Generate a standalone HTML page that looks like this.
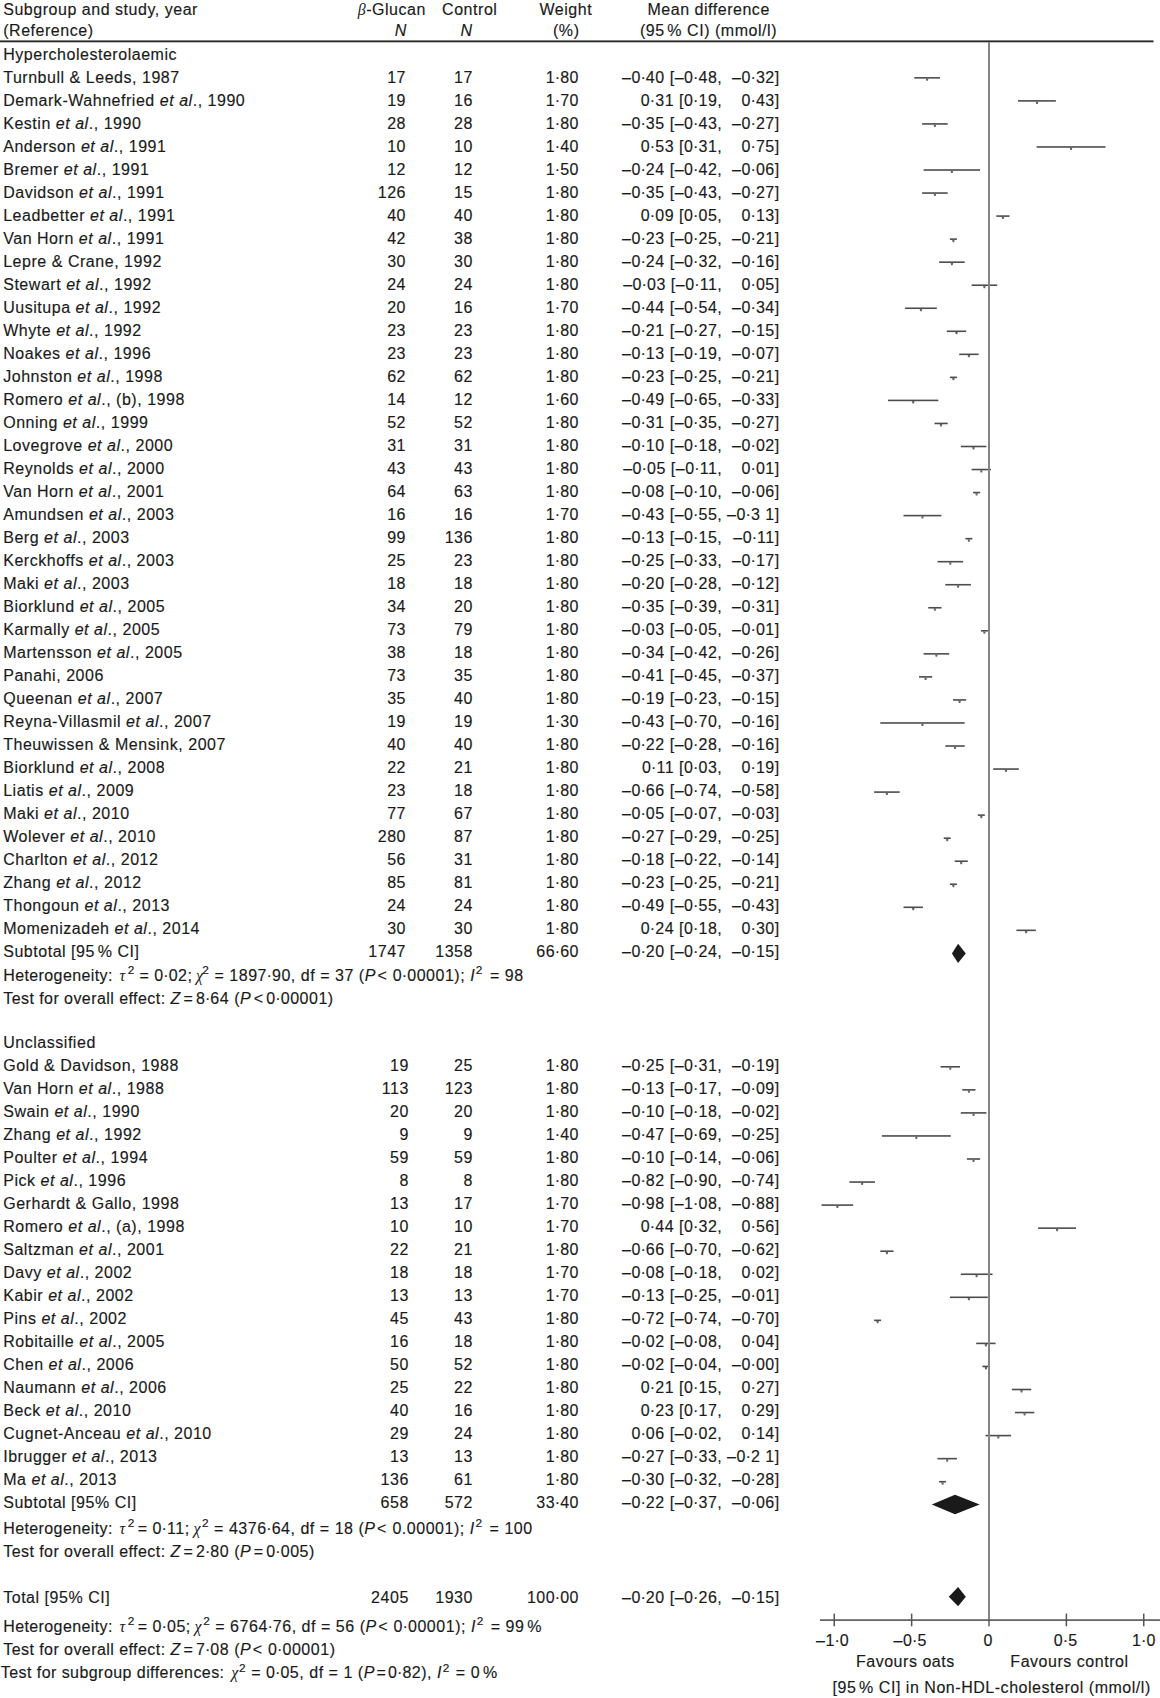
<!DOCTYPE html>
<html><head><meta charset="utf-8"><title>Forest plot</title><style>
html,body{margin:0;padding:0;background:#fff}
#p{position:relative;width:1160px;height:1698px;overflow:hidden;background:#fff;color:#1a1a1a;
font-family:"Liberation Sans",sans-serif;-webkit-text-stroke:0.15px #1a1a1a;font-size:16.0px;line-height:20.0px;letter-spacing:0.53px}
.row{transform:translateY(0.5px);position:absolute;left:0;width:1160px;height:20.0px;white-space:pre}
.row span.l{position:absolute;top:0}
.row span.r{position:absolute;top:0;margin-right:-0.53px}
.row span.c{position:absolute;top:0;width:500px;text-align:center;text-indent:0.53px}
.g{font-family:"Liberation Serif",serif;font-style:italic}
sup{font-size:0.74em;line-height:0;vertical-align:baseline;position:relative;top:-6.4px;margin-left:2px}
.eq{padding:0 2.6px}
.s1{margin-right:-3px}
.x{margin-left:-2px}
.lt{padding:0 0.5px 0 1.5px}
.s3{margin-left:0.7px;margin-right:2px}
b{font-weight:normal;margin:0 -0.44px}
.g{-webkit-text-stroke:0}
.ts{font-size:0.5em}
svg{position:absolute;left:0;top:0}
</style></head>
<body><div id="p">
<svg width="1160" height="1698" viewBox="0 0 1160 1698">
<rect x="914.3" y="77.05" width="25.6" height="1.6" fill="#4d4d4d"/>
<path d="M925.8 78.45h2.6l-0.5 2.4h-1.6z" fill="#666"/>
<rect x="1018.0" y="100.09" width="37.9" height="1.6" fill="#4d4d4d"/>
<path d="M1035.7 101.49h2.6l-0.5 2.4h-1.6z" fill="#666"/>
<rect x="922.1" y="123.13" width="25.6" height="1.6" fill="#4d4d4d"/>
<path d="M933.6 124.53h2.6l-0.5 2.4h-1.6z" fill="#666"/>
<rect x="1036.6" y="146.17" width="68.9" height="1.6" fill="#4d4d4d"/>
<path d="M1069.7 147.57h2.6l-0.5 2.4h-1.6z" fill="#666"/>
<rect x="923.6" y="169.21" width="56.5" height="1.6" fill="#4d4d4d"/>
<path d="M950.6 170.61h2.6l-0.5 2.4h-1.6z" fill="#666"/>
<rect x="922.1" y="192.25" width="25.6" height="1.6" fill="#4d4d4d"/>
<path d="M933.6 193.65h2.6l-0.5 2.4h-1.6z" fill="#666"/>
<rect x="996.3" y="215.29" width="13.2" height="1.6" fill="#4d4d4d"/>
<path d="M1001.6 216.69h2.6l-0.5 2.4h-1.6z" fill="#666"/>
<rect x="949.9" y="238.33" width="7.0" height="1.6" fill="#4d4d4d"/>
<path d="M952.1 239.73h2.6l-0.5 2.4h-1.6z" fill="#666"/>
<rect x="939.1" y="261.37" width="25.6" height="1.6" fill="#4d4d4d"/>
<path d="M950.6 262.77h2.6l-0.5 2.4h-1.6z" fill="#666"/>
<rect x="971.6" y="284.41" width="25.6" height="1.6" fill="#4d4d4d"/>
<path d="M983.1 285.81h2.6l-0.5 2.4h-1.6z" fill="#666"/>
<rect x="905.1" y="307.45" width="31.7" height="1.6" fill="#4d4d4d"/>
<path d="M919.6 308.85h2.6l-0.5 2.4h-1.6z" fill="#666"/>
<rect x="946.8" y="330.49" width="19.4" height="1.6" fill="#4d4d4d"/>
<path d="M955.2 331.89h2.6l-0.5 2.4h-1.6z" fill="#666"/>
<rect x="959.2" y="353.53" width="19.4" height="1.6" fill="#4d4d4d"/>
<path d="M967.6 354.93h2.6l-0.5 2.4h-1.6z" fill="#666"/>
<rect x="949.9" y="376.57" width="7.0" height="1.6" fill="#4d4d4d"/>
<path d="M952.1 377.97h2.6l-0.5 2.4h-1.6z" fill="#666"/>
<rect x="888.0" y="399.61" width="50.3" height="1.6" fill="#4d4d4d"/>
<path d="M911.9 401.01h2.6l-0.5 2.4h-1.6z" fill="#666"/>
<rect x="934.5" y="422.65" width="13.2" height="1.6" fill="#4d4d4d"/>
<path d="M939.7 424.05h2.6l-0.5 2.4h-1.6z" fill="#666"/>
<rect x="960.8" y="445.69" width="25.6" height="1.6" fill="#4d4d4d"/>
<path d="M972.2 447.09h2.6l-0.5 2.4h-1.6z" fill="#666"/>
<rect x="971.6" y="468.73" width="19.4" height="1.6" fill="#4d4d4d"/>
<path d="M980.0 470.13h2.6l-0.5 2.4h-1.6z" fill="#666"/>
<rect x="973.1" y="491.77" width="7.0" height="1.6" fill="#4d4d4d"/>
<path d="M975.3 493.17h2.6l-0.5 2.4h-1.6z" fill="#666"/>
<rect x="903.5" y="514.81" width="37.9" height="1.6" fill="#4d4d4d"/>
<path d="M921.2 516.21h2.6l-0.5 2.4h-1.6z" fill="#666"/>
<rect x="965.4" y="537.85" width="7.0" height="1.6" fill="#4d4d4d"/>
<path d="M967.6 539.25h2.6l-0.5 2.4h-1.6z" fill="#666"/>
<rect x="937.5" y="560.89" width="25.6" height="1.6" fill="#4d4d4d"/>
<path d="M949.0 562.29h2.6l-0.5 2.4h-1.6z" fill="#666"/>
<rect x="945.3" y="583.93" width="25.6" height="1.6" fill="#4d4d4d"/>
<path d="M956.8 585.33h2.6l-0.5 2.4h-1.6z" fill="#666"/>
<rect x="928.3" y="606.97" width="13.2" height="1.6" fill="#4d4d4d"/>
<path d="M933.6 608.37h2.6l-0.5 2.4h-1.6z" fill="#666"/>
<rect x="980.9" y="630.01" width="7.0" height="1.6" fill="#4d4d4d"/>
<path d="M983.1 631.41h2.6l-0.5 2.4h-1.6z" fill="#666"/>
<rect x="923.6" y="653.05" width="25.6" height="1.6" fill="#4d4d4d"/>
<path d="M935.1 654.45h2.6l-0.5 2.4h-1.6z" fill="#666"/>
<rect x="919.0" y="676.09" width="13.2" height="1.6" fill="#4d4d4d"/>
<path d="M924.3 677.49h2.6l-0.5 2.4h-1.6z" fill="#666"/>
<rect x="953.0" y="699.13" width="13.2" height="1.6" fill="#4d4d4d"/>
<path d="M958.3 700.53h2.6l-0.5 2.4h-1.6z" fill="#666"/>
<rect x="880.3" y="722.17" width="84.3" height="1.6" fill="#4d4d4d"/>
<path d="M921.2 723.57h2.6l-0.5 2.4h-1.6z" fill="#666"/>
<rect x="945.3" y="745.21" width="19.4" height="1.6" fill="#4d4d4d"/>
<path d="M953.7 746.61h2.6l-0.5 2.4h-1.6z" fill="#666"/>
<rect x="993.2" y="768.25" width="25.6" height="1.6" fill="#4d4d4d"/>
<path d="M1004.7 769.65h2.6l-0.5 2.4h-1.6z" fill="#666"/>
<rect x="874.1" y="791.29" width="25.6" height="1.6" fill="#4d4d4d"/>
<path d="M885.6 792.69h2.6l-0.5 2.4h-1.6z" fill="#666"/>
<rect x="977.8" y="814.33" width="7.0" height="1.6" fill="#4d4d4d"/>
<path d="M980.0 815.73h2.6l-0.5 2.4h-1.6z" fill="#666"/>
<rect x="943.7" y="837.37" width="7.0" height="1.6" fill="#4d4d4d"/>
<path d="M945.9 838.77h2.6l-0.5 2.4h-1.6z" fill="#666"/>
<rect x="954.6" y="860.41" width="13.2" height="1.6" fill="#4d4d4d"/>
<path d="M959.9 861.81h2.6l-0.5 2.4h-1.6z" fill="#666"/>
<rect x="949.9" y="883.45" width="7.0" height="1.6" fill="#4d4d4d"/>
<path d="M952.1 884.85h2.6l-0.5 2.4h-1.6z" fill="#666"/>
<rect x="903.5" y="906.49" width="19.4" height="1.6" fill="#4d4d4d"/>
<path d="M911.9 907.89h2.6l-0.5 2.4h-1.6z" fill="#666"/>
<rect x="1016.4" y="929.53" width="19.4" height="1.6" fill="#4d4d4d"/>
<path d="M1024.8 930.93h2.6l-0.5 2.4h-1.6z" fill="#666"/>
<path d="M951.9 953.4L958.1 943.8L965.8 953.4L958.1 963.0z" fill="#1a1a1a"/>
<rect x="940.6" y="1066.00" width="19.4" height="1.6" fill="#4d4d4d"/>
<path d="M949.0 1067.40h2.6l-0.5 2.4h-1.6z" fill="#666"/>
<rect x="962.3" y="1089.05" width="13.2" height="1.6" fill="#4d4d4d"/>
<path d="M967.6 1090.45h2.6l-0.5 2.4h-1.6z" fill="#666"/>
<rect x="960.8" y="1112.10" width="25.6" height="1.6" fill="#4d4d4d"/>
<path d="M972.2 1113.50h2.6l-0.5 2.4h-1.6z" fill="#666"/>
<rect x="881.9" y="1135.15" width="68.9" height="1.6" fill="#4d4d4d"/>
<path d="M915.0 1136.55h2.6l-0.5 2.4h-1.6z" fill="#666"/>
<rect x="966.9" y="1158.20" width="13.2" height="1.6" fill="#4d4d4d"/>
<path d="M972.2 1159.60h2.6l-0.5 2.4h-1.6z" fill="#666"/>
<rect x="849.4" y="1181.25" width="25.6" height="1.6" fill="#4d4d4d"/>
<path d="M860.8 1182.65h2.6l-0.5 2.4h-1.6z" fill="#666"/>
<rect x="821.5" y="1204.30" width="31.7" height="1.6" fill="#4d4d4d"/>
<path d="M836.1 1205.70h2.6l-0.5 2.4h-1.6z" fill="#666"/>
<rect x="1038.1" y="1227.35" width="37.9" height="1.6" fill="#4d4d4d"/>
<path d="M1055.8 1228.75h2.6l-0.5 2.4h-1.6z" fill="#666"/>
<rect x="880.3" y="1250.40" width="13.2" height="1.6" fill="#4d4d4d"/>
<path d="M885.6 1251.80h2.6l-0.5 2.4h-1.6z" fill="#666"/>
<rect x="960.8" y="1273.45" width="31.7" height="1.6" fill="#4d4d4d"/>
<path d="M975.3 1274.85h2.6l-0.5 2.4h-1.6z" fill="#666"/>
<rect x="949.9" y="1296.50" width="37.9" height="1.6" fill="#4d4d4d"/>
<path d="M967.6 1297.90h2.6l-0.5 2.4h-1.6z" fill="#666"/>
<rect x="874.1" y="1319.55" width="7.0" height="1.6" fill="#4d4d4d"/>
<path d="M876.3 1320.95h2.6l-0.5 2.4h-1.6z" fill="#666"/>
<rect x="976.2" y="1342.60" width="19.4" height="1.6" fill="#4d4d4d"/>
<path d="M984.6 1344.00h2.6l-0.5 2.4h-1.6z" fill="#666"/>
<rect x="982.4" y="1365.65" width="7.0" height="1.6" fill="#4d4d4d"/>
<path d="M984.6 1367.05h2.6l-0.5 2.4h-1.6z" fill="#666"/>
<rect x="1011.8" y="1388.70" width="19.4" height="1.6" fill="#4d4d4d"/>
<path d="M1020.2 1390.10h2.6l-0.5 2.4h-1.6z" fill="#666"/>
<rect x="1014.9" y="1411.75" width="19.4" height="1.6" fill="#4d4d4d"/>
<path d="M1023.3 1413.15h2.6l-0.5 2.4h-1.6z" fill="#666"/>
<rect x="985.5" y="1434.80" width="25.6" height="1.6" fill="#4d4d4d"/>
<path d="M997.0 1436.20h2.6l-0.5 2.4h-1.6z" fill="#666"/>
<rect x="937.5" y="1457.85" width="19.4" height="1.6" fill="#4d4d4d"/>
<path d="M945.9 1459.25h2.6l-0.5 2.4h-1.6z" fill="#666"/>
<rect x="939.1" y="1480.90" width="7.0" height="1.6" fill="#4d4d4d"/>
<path d="M941.3 1482.30h2.6l-0.5 2.4h-1.6z" fill="#666"/>
<path d="M931.8 1504.5L955.0 1494.7L979.7 1504.5L955.0 1514.3z" fill="#1a1a1a"/>
<path d="M948.8 1596.7L958.1 1587.1L965.8 1596.7L958.1 1606.3z" fill="#1a1a1a"/>
<rect x="0" y="40.4" width="1153.5" height="1.9" fill="#2a2a2a"/>
<rect x="988" y="42" width="2" height="1584.3" fill="#858585"/>
<rect x="820" y="1619.3" width="340" height="1.6" fill="#555"/>
<rect x="833.5" y="1613.6" width="1.5" height="12.7" fill="#555"/>
<rect x="910.9" y="1613.6" width="1.5" height="12.7" fill="#555"/>
<rect x="1065.6" y="1613.6" width="1.5" height="12.7" fill="#555"/>
<rect x="1143.0" y="1613.6" width="1.5" height="12.7" fill="#555"/>
</svg>
<div class="row" style="top:43.76px"><span class="l" style="left:3.2px">Hypercholesterolaemic</span></div>
<div class="row" style="top:66.76px"><span class="l" style="left:3.2px">Turnbull &amp; Leeds, 1987</span><span class="r" style="right:754.5px">17</span><span class="r" style="right:687.6px">17</span><span class="r" style="right:581.5px">1<b>·</b>80</span><span class="r" style="right:438.2px">–0<b>·</b>40 [–0<b>·</b>48,</span><span class="r" style="right:380.8px">–0<b>·</b>32]</span></div>
<div class="row" style="top:89.76px"><span class="l" style="left:3.2px">Demark-Wahnefried <i>et al</i>., 1990</span><span class="r" style="right:754.5px">19</span><span class="r" style="right:687.6px">16</span><span class="r" style="right:581.5px">1<b>·</b>70</span><span class="r" style="right:438.2px">0<b>·</b>31 [0<b>·</b>19,</span><span class="r" style="right:380.8px">0<b>·</b>43]</span></div>
<div class="row" style="top:112.76px"><span class="l" style="left:3.2px">Kestin <i>et al</i>., 1990</span><span class="r" style="right:754.5px">28</span><span class="r" style="right:687.6px">28</span><span class="r" style="right:581.5px">1<b>·</b>80</span><span class="r" style="right:438.2px">–0<b>·</b>35 [–0<b>·</b>43,</span><span class="r" style="right:380.8px">–0<b>·</b>27]</span></div>
<div class="row" style="top:135.76px"><span class="l" style="left:3.2px">Anderson <i>et al</i>., 1991</span><span class="r" style="right:754.5px">10</span><span class="r" style="right:687.6px">10</span><span class="r" style="right:581.5px">1<b>·</b>40</span><span class="r" style="right:438.2px">0<b>·</b>53 [0<b>·</b>31,</span><span class="r" style="right:380.8px">0<b>·</b>75]</span></div>
<div class="row" style="top:158.76px"><span class="l" style="left:3.2px">Bremer <i>et al</i>., 1991</span><span class="r" style="right:754.5px">12</span><span class="r" style="right:687.6px">12</span><span class="r" style="right:581.5px">1<b>·</b>50</span><span class="r" style="right:438.2px">–0<b>·</b>24 [–0<b>·</b>42,</span><span class="r" style="right:380.8px">–0<b>·</b>06]</span></div>
<div class="row" style="top:181.76px"><span class="l" style="left:3.2px">Davidson <i>et al</i>., 1991</span><span class="r" style="right:754.5px">126</span><span class="r" style="right:687.6px">15</span><span class="r" style="right:581.5px">1<b>·</b>80</span><span class="r" style="right:438.2px">–0<b>·</b>35 [–0<b>·</b>43,</span><span class="r" style="right:380.8px">–0<b>·</b>27]</span></div>
<div class="row" style="top:204.76px"><span class="l" style="left:3.2px">Leadbetter <i>et al</i>., 1991</span><span class="r" style="right:754.5px">40</span><span class="r" style="right:687.6px">40</span><span class="r" style="right:581.5px">1<b>·</b>80</span><span class="r" style="right:438.2px">0<b>·</b>09 [0<b>·</b>05,</span><span class="r" style="right:380.8px">0<b>·</b>13]</span></div>
<div class="row" style="top:227.76px"><span class="l" style="left:3.2px">Van Horn <i>et al</i>., 1991</span><span class="r" style="right:754.5px">42</span><span class="r" style="right:687.6px">38</span><span class="r" style="right:581.5px">1<b>·</b>80</span><span class="r" style="right:438.2px">–0<b>·</b>23 [–0<b>·</b>25,</span><span class="r" style="right:380.8px">–0<b>·</b>21]</span></div>
<div class="row" style="top:250.76px"><span class="l" style="left:3.2px">Lepre &amp; Crane, 1992</span><span class="r" style="right:754.5px">30</span><span class="r" style="right:687.6px">30</span><span class="r" style="right:581.5px">1<b>·</b>80</span><span class="r" style="right:438.2px">–0<b>·</b>24 [–0<b>·</b>32,</span><span class="r" style="right:380.8px">–0<b>·</b>16]</span></div>
<div class="row" style="top:273.76px"><span class="l" style="left:3.2px">Stewart <i>et al</i>., 1992</span><span class="r" style="right:754.5px">24</span><span class="r" style="right:687.6px">24</span><span class="r" style="right:581.5px">1<b>·</b>80</span><span class="r" style="right:438.2px">–0<b>·</b>03 [–0<b>·</b>11,</span><span class="r" style="right:380.8px">0<b>·</b>05]</span></div>
<div class="row" style="top:296.76px"><span class="l" style="left:3.2px">Uusitupa <i>et al</i>., 1992</span><span class="r" style="right:754.5px">20</span><span class="r" style="right:687.6px">16</span><span class="r" style="right:581.5px">1<b>·</b>70</span><span class="r" style="right:438.2px">–0<b>·</b>44 [–0<b>·</b>54,</span><span class="r" style="right:380.8px">–0<b>·</b>34]</span></div>
<div class="row" style="top:319.76px"><span class="l" style="left:3.2px">Whyte <i>et al</i>., 1992</span><span class="r" style="right:754.5px">23</span><span class="r" style="right:687.6px">23</span><span class="r" style="right:581.5px">1<b>·</b>80</span><span class="r" style="right:438.2px">–0<b>·</b>21 [–0<b>·</b>27,</span><span class="r" style="right:380.8px">–0<b>·</b>15]</span></div>
<div class="row" style="top:342.76px"><span class="l" style="left:3.2px">Noakes <i>et al</i>., 1996</span><span class="r" style="right:754.5px">23</span><span class="r" style="right:687.6px">23</span><span class="r" style="right:581.5px">1<b>·</b>80</span><span class="r" style="right:438.2px">–0<b>·</b>13 [–0<b>·</b>19,</span><span class="r" style="right:380.8px">–0<b>·</b>07]</span></div>
<div class="row" style="top:365.76px"><span class="l" style="left:3.2px">Johnston <i>et al</i>., 1998</span><span class="r" style="right:754.5px">62</span><span class="r" style="right:687.6px">62</span><span class="r" style="right:581.5px">1<b>·</b>80</span><span class="r" style="right:438.2px">–0<b>·</b>23 [–0<b>·</b>25,</span><span class="r" style="right:380.8px">–0<b>·</b>21]</span></div>
<div class="row" style="top:388.76px"><span class="l" style="left:3.2px">Romero <i>et al</i>., (b), 1998</span><span class="r" style="right:754.5px">14</span><span class="r" style="right:687.6px">12</span><span class="r" style="right:581.5px">1<b>·</b>60</span><span class="r" style="right:438.2px">–0<b>·</b>49 [–0<b>·</b>65,</span><span class="r" style="right:380.8px">–0<b>·</b>33]</span></div>
<div class="row" style="top:411.76px"><span class="l" style="left:3.2px">Onning <i>et al</i>., 1999</span><span class="r" style="right:754.5px">52</span><span class="r" style="right:687.6px">52</span><span class="r" style="right:581.5px">1<b>·</b>80</span><span class="r" style="right:438.2px">–0<b>·</b>31 [–0<b>·</b>35,</span><span class="r" style="right:380.8px">–0<b>·</b>27]</span></div>
<div class="row" style="top:434.76px"><span class="l" style="left:3.2px">Lovegrove <i>et al</i>., 2000</span><span class="r" style="right:754.5px">31</span><span class="r" style="right:687.6px">31</span><span class="r" style="right:581.5px">1<b>·</b>80</span><span class="r" style="right:438.2px">–0<b>·</b>10 [–0<b>·</b>18,</span><span class="r" style="right:380.8px">–0<b>·</b>02]</span></div>
<div class="row" style="top:457.76px"><span class="l" style="left:3.2px">Reynolds <i>et al</i>., 2000</span><span class="r" style="right:754.5px">43</span><span class="r" style="right:687.6px">43</span><span class="r" style="right:581.5px">1<b>·</b>80</span><span class="r" style="right:438.2px">–0<b>·</b>05 [–0<b>·</b>11,</span><span class="r" style="right:380.8px">0<b>·</b>01]</span></div>
<div class="row" style="top:480.76px"><span class="l" style="left:3.2px">Van Horn <i>et al</i>., 2001</span><span class="r" style="right:754.5px">64</span><span class="r" style="right:687.6px">63</span><span class="r" style="right:581.5px">1<b>·</b>80</span><span class="r" style="right:438.2px">–0<b>·</b>08 [–0<b>·</b>10,</span><span class="r" style="right:380.8px">–0<b>·</b>06]</span></div>
<div class="row" style="top:503.76px"><span class="l" style="left:3.2px">Amundsen <i>et al</i>., 2003</span><span class="r" style="right:754.5px">16</span><span class="r" style="right:687.6px">16</span><span class="r" style="right:581.5px">1<b>·</b>70</span><span class="r" style="right:438.2px">–0<b>·</b>43 [–0<b>·</b>55,</span><span class="r" style="right:380.8px">–0<b>·</b>3 1]</span></div>
<div class="row" style="top:526.76px"><span class="l" style="left:3.2px">Berg <i>et al</i>., 2003</span><span class="r" style="right:754.5px">99</span><span class="r" style="right:687.6px">136</span><span class="r" style="right:581.5px">1<b>·</b>80</span><span class="r" style="right:438.2px">–0<b>·</b>13 [–0<b>·</b>15,</span><span class="r" style="right:380.8px">–0<b>·</b>11]</span></div>
<div class="row" style="top:549.76px"><span class="l" style="left:3.2px">Kerckhoffs <i>et al</i>., 2003</span><span class="r" style="right:754.5px">25</span><span class="r" style="right:687.6px">23</span><span class="r" style="right:581.5px">1<b>·</b>80</span><span class="r" style="right:438.2px">–0<b>·</b>25 [–0<b>·</b>33,</span><span class="r" style="right:380.8px">–0<b>·</b>17]</span></div>
<div class="row" style="top:572.76px"><span class="l" style="left:3.2px">Maki <i>et al</i>., 2003</span><span class="r" style="right:754.5px">18</span><span class="r" style="right:687.6px">18</span><span class="r" style="right:581.5px">1<b>·</b>80</span><span class="r" style="right:438.2px">–0<b>·</b>20 [–0<b>·</b>28,</span><span class="r" style="right:380.8px">–0<b>·</b>12]</span></div>
<div class="row" style="top:595.76px"><span class="l" style="left:3.2px">Biorklund <i>et al</i>., 2005</span><span class="r" style="right:754.5px">34</span><span class="r" style="right:687.6px">20</span><span class="r" style="right:581.5px">1<b>·</b>80</span><span class="r" style="right:438.2px">–0<b>·</b>35 [–0<b>·</b>39,</span><span class="r" style="right:380.8px">–0<b>·</b>31]</span></div>
<div class="row" style="top:618.76px"><span class="l" style="left:3.2px">Karmally <i>et al</i>., 2005</span><span class="r" style="right:754.5px">73</span><span class="r" style="right:687.6px">79</span><span class="r" style="right:581.5px">1<b>·</b>80</span><span class="r" style="right:438.2px">–0<b>·</b>03 [–0<b>·</b>05,</span><span class="r" style="right:380.8px">–0<b>·</b>01]</span></div>
<div class="row" style="top:641.76px"><span class="l" style="left:3.2px">Martensson <i>et al</i>., 2005</span><span class="r" style="right:754.5px">38</span><span class="r" style="right:687.6px">18</span><span class="r" style="right:581.5px">1<b>·</b>80</span><span class="r" style="right:438.2px">–0<b>·</b>34 [–0<b>·</b>42,</span><span class="r" style="right:380.8px">–0<b>·</b>26]</span></div>
<div class="row" style="top:664.76px"><span class="l" style="left:3.2px">Panahi, 2006</span><span class="r" style="right:754.5px">73</span><span class="r" style="right:687.6px">35</span><span class="r" style="right:581.5px">1<b>·</b>80</span><span class="r" style="right:438.2px">–0<b>·</b>41 [–0<b>·</b>45,</span><span class="r" style="right:380.8px">–0<b>·</b>37]</span></div>
<div class="row" style="top:687.76px"><span class="l" style="left:3.2px">Queenan <i>et al</i>., 2007</span><span class="r" style="right:754.5px">35</span><span class="r" style="right:687.6px">40</span><span class="r" style="right:581.5px">1<b>·</b>80</span><span class="r" style="right:438.2px">–0<b>·</b>19 [–0<b>·</b>23,</span><span class="r" style="right:380.8px">–0<b>·</b>15]</span></div>
<div class="row" style="top:710.76px"><span class="l" style="left:3.2px">Reyna-Villasmil <i>et al</i>., 2007</span><span class="r" style="right:754.5px">19</span><span class="r" style="right:687.6px">19</span><span class="r" style="right:581.5px">1<b>·</b>30</span><span class="r" style="right:438.2px">–0<b>·</b>43 [–0<b>·</b>70,</span><span class="r" style="right:380.8px">–0<b>·</b>16]</span></div>
<div class="row" style="top:733.76px"><span class="l" style="left:3.2px">Theuwissen &amp; Mensink, 2007</span><span class="r" style="right:754.5px">40</span><span class="r" style="right:687.6px">40</span><span class="r" style="right:581.5px">1<b>·</b>80</span><span class="r" style="right:438.2px">–0<b>·</b>22 [–0<b>·</b>28,</span><span class="r" style="right:380.8px">–0<b>·</b>16]</span></div>
<div class="row" style="top:756.76px"><span class="l" style="left:3.2px">Biorklund <i>et al</i>., 2008</span><span class="r" style="right:754.5px">22</span><span class="r" style="right:687.6px">21</span><span class="r" style="right:581.5px">1<b>·</b>80</span><span class="r" style="right:438.2px">0<b>·</b>11 [0<b>·</b>03,</span><span class="r" style="right:380.8px">0<b>·</b>19]</span></div>
<div class="row" style="top:779.76px"><span class="l" style="left:3.2px">Liatis <i>et al</i>., 2009</span><span class="r" style="right:754.5px">23</span><span class="r" style="right:687.6px">18</span><span class="r" style="right:581.5px">1<b>·</b>80</span><span class="r" style="right:438.2px">–0<b>·</b>66 [–0<b>·</b>74,</span><span class="r" style="right:380.8px">–0<b>·</b>58]</span></div>
<div class="row" style="top:802.76px"><span class="l" style="left:3.2px">Maki <i>et al</i>., 2010</span><span class="r" style="right:754.5px">77</span><span class="r" style="right:687.6px">67</span><span class="r" style="right:581.5px">1<b>·</b>80</span><span class="r" style="right:438.2px">–0<b>·</b>05 [–0<b>·</b>07,</span><span class="r" style="right:380.8px">–0<b>·</b>03]</span></div>
<div class="row" style="top:825.76px"><span class="l" style="left:3.2px">Wolever <i>et al</i>., 2010</span><span class="r" style="right:754.5px">280</span><span class="r" style="right:687.6px">87</span><span class="r" style="right:581.5px">1<b>·</b>80</span><span class="r" style="right:438.2px">–0<b>·</b>27 [–0<b>·</b>29,</span><span class="r" style="right:380.8px">–0<b>·</b>25]</span></div>
<div class="row" style="top:848.76px"><span class="l" style="left:3.2px">Charlton <i>et al</i>., 2012</span><span class="r" style="right:754.5px">56</span><span class="r" style="right:687.6px">31</span><span class="r" style="right:581.5px">1<b>·</b>80</span><span class="r" style="right:438.2px">–0<b>·</b>18 [–0<b>·</b>22,</span><span class="r" style="right:380.8px">–0<b>·</b>14]</span></div>
<div class="row" style="top:871.76px"><span class="l" style="left:3.2px">Zhang <i>et al</i>., 2012</span><span class="r" style="right:754.5px">85</span><span class="r" style="right:687.6px">81</span><span class="r" style="right:581.5px">1<b>·</b>80</span><span class="r" style="right:438.2px">–0<b>·</b>23 [–0<b>·</b>25,</span><span class="r" style="right:380.8px">–0<b>·</b>21]</span></div>
<div class="row" style="top:894.76px"><span class="l" style="left:3.2px">Thongoun <i>et al</i>., 2013</span><span class="r" style="right:754.5px">24</span><span class="r" style="right:687.6px">24</span><span class="r" style="right:581.5px">1<b>·</b>80</span><span class="r" style="right:438.2px">–0<b>·</b>49 [–0<b>·</b>55,</span><span class="r" style="right:380.8px">–0<b>·</b>43]</span></div>
<div class="row" style="top:917.76px"><span class="l" style="left:3.2px">Momenizadeh <i>et al</i>., 2014</span><span class="r" style="right:754.5px">30</span><span class="r" style="right:687.6px">30</span><span class="r" style="right:581.5px">1<b>·</b>80</span><span class="r" style="right:438.2px">0<b>·</b>24 [0<b>·</b>18,</span><span class="r" style="right:380.8px">0<b>·</b>30]</span></div>
<div class="row" style="top:940.86px"><span class="l" style="left:3.2px">Subtotal [95<span class='ts'> </span>% CI]</span><span class="r" style="right:754.5px">1747</span><span class="r" style="right:687.6px">1358</span><span class="r" style="right:581.5px">66<b>·</b>60</span><span class="r" style="right:438.2px">–0<b>·</b>20 [–0<b>·</b>24,</span><span class="r" style="right:380.8px">–0<b>·</b>15]</span></div>
<div class="row" style="top:964.76px"><span class="l" style="left:3.2px"><span style='letter-spacing:.4px;margin-right:1.7px'>Heterogeneity:</span> <span class='g'>τ</span><sup style='margin-right:-0.5px'>2</sup> = 0<b>·</b>02; <span class='g' style='margin-left:-1.5px'>χ</span><sup style='margin-left:-1.2px'>2</sup> = 1897<b>·</b>90, df = 37 (<i>P</i><span class='lt'>&lt;</span> 0<b>·</b>00001); <i>I</i><sup class='s3'>2</sup> = 98</span></div>
<div class="row" style="top:988.16px"><span class="l" style="left:3.2px"><span style='letter-spacing:.44px'>Test for overall effect:</span> <i>Z</i><span class='eq'>=</span>8<b>·</b>64 (<i>P</i><span class='eq'>&lt;</span>0<b>·</b>00001)</span></div>
<div class="row" style="top:1031.76px"><span class="l" style="left:3.2px">Unclassified</span></div>
<div class="row" style="top:1054.76px"><span class="l" style="left:3.2px">Gold &amp; Davidson, 1988</span><span class="r" style="right:751.7px">19</span><span class="r" style="right:687.6px">25</span><span class="r" style="right:581.5px">1<b>·</b>80</span><span class="r" style="right:438.2px">–0<b>·</b>25 [–0<b>·</b>31,</span><span class="r" style="right:380.8px">–0<b>·</b>19]</span></div>
<div class="row" style="top:1077.76px"><span class="l" style="left:3.2px">Van Horn <i>et al</i>., 1988</span><span class="r" style="right:751.7px">113</span><span class="r" style="right:687.6px">123</span><span class="r" style="right:581.5px">1<b>·</b>80</span><span class="r" style="right:438.2px">–0<b>·</b>13 [–0<b>·</b>17,</span><span class="r" style="right:380.8px">–0<b>·</b>09]</span></div>
<div class="row" style="top:1100.76px"><span class="l" style="left:3.2px">Swain <i>et al</i>., 1990</span><span class="r" style="right:751.7px">20</span><span class="r" style="right:687.6px">20</span><span class="r" style="right:581.5px">1<b>·</b>80</span><span class="r" style="right:438.2px">–0<b>·</b>10 [–0<b>·</b>18,</span><span class="r" style="right:380.8px">–0<b>·</b>02]</span></div>
<div class="row" style="top:1123.76px"><span class="l" style="left:3.2px">Zhang <i>et al</i>., 1992</span><span class="r" style="right:751.7px">9</span><span class="r" style="right:687.6px">9</span><span class="r" style="right:581.5px">1<b>·</b>40</span><span class="r" style="right:438.2px">–0<b>·</b>47 [–0<b>·</b>69,</span><span class="r" style="right:380.8px">–0<b>·</b>25]</span></div>
<div class="row" style="top:1146.76px"><span class="l" style="left:3.2px">Poulter <i>et al</i>., 1994</span><span class="r" style="right:751.7px">59</span><span class="r" style="right:687.6px">59</span><span class="r" style="right:581.5px">1<b>·</b>80</span><span class="r" style="right:438.2px">–0<b>·</b>10 [–0<b>·</b>14,</span><span class="r" style="right:380.8px">–0<b>·</b>06]</span></div>
<div class="row" style="top:1169.76px"><span class="l" style="left:3.2px">Pick <i>et al</i>., 1996</span><span class="r" style="right:751.7px">8</span><span class="r" style="right:687.6px">8</span><span class="r" style="right:581.5px">1<b>·</b>80</span><span class="r" style="right:438.2px">–0<b>·</b>82 [–0<b>·</b>90,</span><span class="r" style="right:380.8px">–0<b>·</b>74]</span></div>
<div class="row" style="top:1192.76px"><span class="l" style="left:3.2px">Gerhardt &amp; Gallo, 1998</span><span class="r" style="right:751.7px">13</span><span class="r" style="right:687.6px">17</span><span class="r" style="right:581.5px">1<b>·</b>70</span><span class="r" style="right:438.2px">–0<b>·</b>98 [–1<b>·</b>08,</span><span class="r" style="right:380.8px">–0<b>·</b>88]</span></div>
<div class="row" style="top:1215.76px"><span class="l" style="left:3.2px">Romero <i>et al</i>., (a), 1998</span><span class="r" style="right:751.7px">10</span><span class="r" style="right:687.6px">10</span><span class="r" style="right:581.5px">1<b>·</b>70</span><span class="r" style="right:438.2px">0<b>·</b>44 [0<b>·</b>32,</span><span class="r" style="right:380.8px">0<b>·</b>56]</span></div>
<div class="row" style="top:1238.76px"><span class="l" style="left:3.2px">Saltzman <i>et al</i>., 2001</span><span class="r" style="right:751.7px">22</span><span class="r" style="right:687.6px">21</span><span class="r" style="right:581.5px">1<b>·</b>80</span><span class="r" style="right:438.2px">–0<b>·</b>66 [–0<b>·</b>70,</span><span class="r" style="right:380.8px">–0<b>·</b>62]</span></div>
<div class="row" style="top:1261.76px"><span class="l" style="left:3.2px">Davy <i>et al</i>., 2002</span><span class="r" style="right:751.7px">18</span><span class="r" style="right:687.6px">18</span><span class="r" style="right:581.5px">1<b>·</b>70</span><span class="r" style="right:438.2px">–0<b>·</b>08 [–0<b>·</b>18,</span><span class="r" style="right:380.8px">0<b>·</b>02]</span></div>
<div class="row" style="top:1284.76px"><span class="l" style="left:3.2px">Kabir <i>et al</i>., 2002</span><span class="r" style="right:751.7px">13</span><span class="r" style="right:687.6px">13</span><span class="r" style="right:581.5px">1<b>·</b>70</span><span class="r" style="right:438.2px">–0<b>·</b>13 [–0<b>·</b>25,</span><span class="r" style="right:380.8px">–0<b>·</b>01]</span></div>
<div class="row" style="top:1307.76px"><span class="l" style="left:3.2px">Pins <i>et al</i>., 2002</span><span class="r" style="right:751.7px">45</span><span class="r" style="right:687.6px">43</span><span class="r" style="right:581.5px">1<b>·</b>80</span><span class="r" style="right:438.2px">–0<b>·</b>72 [–0<b>·</b>74,</span><span class="r" style="right:380.8px">–0<b>·</b>70]</span></div>
<div class="row" style="top:1330.76px"><span class="l" style="left:3.2px">Robitaille <i>et al</i>., 2005</span><span class="r" style="right:751.7px">16</span><span class="r" style="right:687.6px">18</span><span class="r" style="right:581.5px">1<b>·</b>80</span><span class="r" style="right:438.2px">–0<b>·</b>02 [–0<b>·</b>08,</span><span class="r" style="right:380.8px">0<b>·</b>04]</span></div>
<div class="row" style="top:1353.76px"><span class="l" style="left:3.2px">Chen <i>et al</i>., 2006</span><span class="r" style="right:751.7px">50</span><span class="r" style="right:687.6px">52</span><span class="r" style="right:581.5px">1<b>·</b>80</span><span class="r" style="right:438.2px">–0<b>·</b>02 [–0<b>·</b>04,</span><span class="r" style="right:380.8px">–0<b>·</b>00]</span></div>
<div class="row" style="top:1376.76px"><span class="l" style="left:3.2px">Naumann <i>et al</i>., 2006</span><span class="r" style="right:751.7px">25</span><span class="r" style="right:687.6px">22</span><span class="r" style="right:581.5px">1<b>·</b>80</span><span class="r" style="right:438.2px">0<b>·</b>21 [0<b>·</b>15,</span><span class="r" style="right:380.8px">0<b>·</b>27]</span></div>
<div class="row" style="top:1399.76px"><span class="l" style="left:3.2px">Beck <i>et al</i>., 2010</span><span class="r" style="right:751.7px">40</span><span class="r" style="right:687.6px">16</span><span class="r" style="right:581.5px">1<b>·</b>80</span><span class="r" style="right:438.2px">0<b>·</b>23 [0<b>·</b>17,</span><span class="r" style="right:380.8px">0<b>·</b>29]</span></div>
<div class="row" style="top:1422.76px"><span class="l" style="left:3.2px">Cugnet-Anceau <i>et al</i>., 2010</span><span class="r" style="right:751.7px">29</span><span class="r" style="right:687.6px">24</span><span class="r" style="right:581.5px">1<b>·</b>80</span><span class="r" style="right:438.2px">0<b>·</b>06 [–0<b>·</b>02,</span><span class="r" style="right:380.8px">0<b>·</b>14]</span></div>
<div class="row" style="top:1445.76px"><span class="l" style="left:3.2px">Ibrugger <i>et al</i>., 2013</span><span class="r" style="right:751.7px">13</span><span class="r" style="right:687.6px">13</span><span class="r" style="right:581.5px">1<b>·</b>80</span><span class="r" style="right:438.2px">–0<b>·</b>27 [–0<b>·</b>33,</span><span class="r" style="right:380.8px">–0<b>·</b>2 1]</span></div>
<div class="row" style="top:1468.76px"><span class="l" style="left:3.2px">Ma <i>et al</i>., 2013</span><span class="r" style="right:751.7px">136</span><span class="r" style="right:687.6px">61</span><span class="r" style="right:581.5px">1<b>·</b>80</span><span class="r" style="right:438.2px">–0<b>·</b>30 [–0<b>·</b>32,</span><span class="r" style="right:380.8px">–0<b>·</b>28]</span></div>
<div class="row" style="top:1492.06px"><span class="l" style="left:3.2px">Subtotal [95% CI]</span><span class="r" style="right:751.7px">658</span><span class="r" style="right:687.6px">572</span><span class="r" style="right:581.5px">33<b>·</b>40</span><span class="r" style="right:438.2px">–0<b>·</b>22 [–0<b>·</b>37,</span><span class="r" style="right:380.8px">–0<b>·</b>06]</span></div>
<div class="row" style="top:1517.66px"><span class="l" style="left:3.2px"><span style='letter-spacing:.4px;margin-right:1.7px'>Heterogeneity:</span> <span class='g'>τ</span><sup style='margin-right:-2.2px'>2</sup> = 0<b>·</b>11; <span class='g' style='margin-left:-1.2px'>χ</span><sup style='margin-left:1px'>2</sup> = 4376<b>·</b>64, df = 18 (<i>P</i><span class='lt'>&lt;</span> 0.00001); <i>I</i><sup class='s3'>2</sup> = 100</span></div>
<div class="row" style="top:1540.86px"><span class="l" style="left:3.2px"><span style='letter-spacing:.44px'>Test for overall effect:</span> <i>Z</i><span class='eq'>=</span>2<b>·</b>80 (<i>P</i><span class='eq'>=</span>0<b>·</b>005)</span></div>
<div class="row" style="top:1587.36px"><span class="l" style="left:3.2px">Total [95% CI]</span><span class="r" style="right:751.7px">2405</span><span class="r" style="right:687.6px">1930</span><span class="r" style="right:581.5px">100<b>·</b>00</span><span class="r" style="right:438.2px">–0<b>·</b>20 [–0<b>·</b>26,</span><span class="r" style="right:380.8px">–0<b>·</b>15]</span></div>
<div class="row" style="top:1615.66px"><span class="l" style="left:3.2px"><span style='letter-spacing:.4px;margin-right:1.7px'>Heterogeneity:</span> <span class='g'>τ</span><sup style='margin-right:-2.2px'>2</sup> = 0<b>·</b>05; <span class='g' style='margin-left:-1.2px'>χ</span><sup style='margin-left:1px'>2</sup> = 6764<b>·</b>76, df = 56 (<i>P</i><span class='lt'>&lt;</span> 0<b>·</b>00001); <i>I</i><sup class='s3'>2</sup> = 99<span class='ts'> </span>%</span></div>
<div class="row" style="top:1638.96px"><span class="l" style="left:3.2px"><span style='letter-spacing:.44px'>Test for overall effect:</span> <i>Z</i><span class='eq'>=</span>7<b>·</b>08 (<i>P</i><span class='lt'>&lt;</span> 0<b>·</b>00001)</span></div>
<div class="row" style="top:1662.36px"><span class="l" style="left:0.8px"><span style='letter-spacing:.44px;margin-right:1.7px'>Test for subgroup differences:</span> <span class='g'>χ</span><sup style='margin:0 0 0 0.3px'>2</sup> = 0<b>·</b>05, df = 1 (<i>P</i><span style='padding:0 1.6px'>=</span>0<b>·</b>82), <i>I</i><sup style='margin:0 1px 0 0.7px'>2</sup> = 0<span class='ts'> </span>%</span></div>
<div class="row" style="top:-1.04px"><span class="l" style="left:3.2px">Subgroup and study, year</span></div>
<div class="row" style="top:19.76px"><span class="l" style="left:3.2px">(Reference)</span></div>
<div class="row" style="top:-1.04px"><span class="c" style="left:141.5px"><span class='g'>β</span>-Glucan</span></div>
<div class="row" style="top:19.76px"><span class="c" style="left:150.5px"><i>N</i></span></div>
<div class="row" style="top:-1.04px"><span class="c" style="left:219.5px">Control</span></div>
<div class="row" style="top:19.76px"><span class="c" style="left:216.3px"><i>N</i></span></div>
<div class="row" style="top:-1.04px"><span class="c" style="left:315.6px">Weight</span></div>
<div class="row" style="top:19.76px"><span class="c" style="left:316.0px">(%)</span></div>
<div class="row" style="top:-1.04px"><span class="c" style="left:458.4px">Mean difference</span></div>
<div class="row" style="top:19.76px"><span class="c" style="left:458.2px">(95<span class='ts'> </span>% CI) (mmol/l)</span></div>
<div class="row" style="top:1630.36px"><span class="c" style="left:582.4px">–1<b>·</b>0</span></div>
<div class="row" style="top:1630.36px"><span class="c" style="left:660.0px">–0<b>·</b>5</span></div>
<div class="row" style="top:1630.36px"><span class="c" style="left:738.0px">0</span></div>
<div class="row" style="top:1630.36px"><span class="c" style="left:815.4px">0<b>·</b>5</span></div>
<div class="row" style="top:1630.36px"><span class="c" style="left:893.7px">1<b>·</b>0</span></div>
<div class="row" style="top:1650.56px"><span class="c" style="left:655.1px">Favours oats</span></div>
<div class="row" style="top:1650.56px"><span class="c" style="left:819.2px">Favours control</span></div>
<div class="row" style="top:1676.96px"><span class="c" style="left:741.4px">[95<span class='ts'> </span>% CI] in Non-HDL-cholesterol (mmol/l)</span></div>
</div></body></html>
